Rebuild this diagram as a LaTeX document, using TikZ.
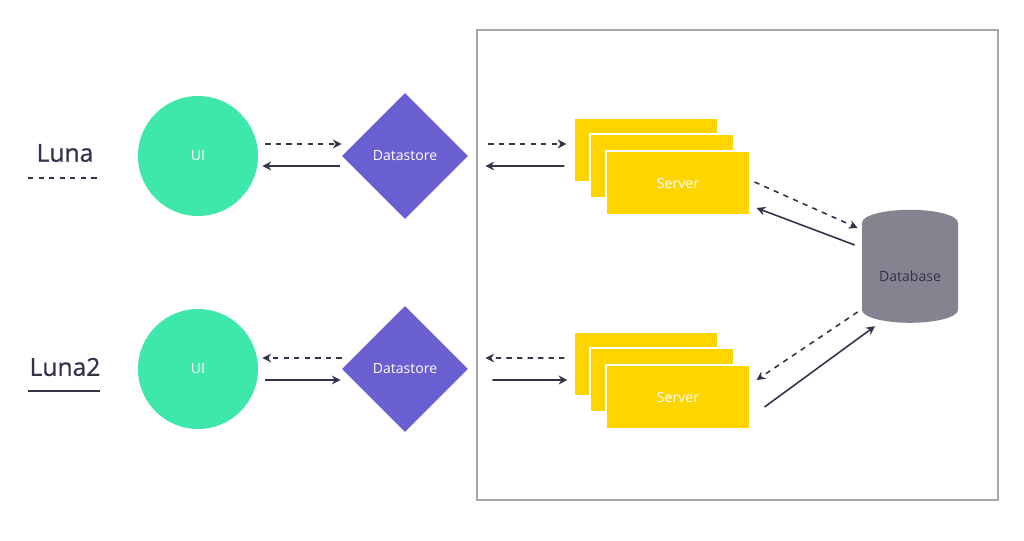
\documentclass[tikz,border=0pt]{standalone}
\usepackage{fontspec}
\setmainfont{Open Sans}
\usetikzlibrary{shapes.geometric,arrows.meta}
\definecolor{uigreen}{HTML}{3DE8AA}
\definecolor{dspurple}{HTML}{6A5FD0}
\definecolor{srvyellow}{HTML}{FFD500}
\definecolor{dbgray}{HTML}{878290}
\definecolor{ink}{HTML}{33334A}
\tikzset{
  ui/.style={circle,fill=uigreen,minimum size=2.4cm,text=white,font=\fontsize{8}{9}\selectfont},
  store/.style={diamond,aspect=1,fill=dspurple,minimum size=2.52cm,inner sep=0pt,text=white,font=\fontsize{8}{9}\selectfont},
  srv/.style={rectangle,fill=srvyellow,draw=white,line width=0.6pt,minimum width=2.88cm,minimum height=1.28cm,text=white,font=\fontsize{8}{9}\selectfont},
  db/.style={cylinder,shape border rotate=90,aspect=0.35,fill=dbgray,minimum width=1.92cm,minimum height=2.26cm,text=ink,font=\fontsize{8}{9}\selectfont},
  flow/.style={-{Stealth[length=5pt,width=5pt]},ink,line width=0.9pt},
  back/.style={flow,dashed},
  lbl/.style={text=ink,font=\fontsize{14}{16}\selectfont\addfontfeatures{FakeBold=0.8}}
}
\begin{document}
\begin{tikzpicture}
  \useasboundingbox[fill=white] (0,0) rectangle (20.48,10.82);
  \draw[gray!70,line width=1pt] (9.54,10.22) rectangle (19.96,0.82);
  % labels
  \node[lbl] (luna) at (1.3,7.76) {Luna};
  \draw[ink,dashed,line width=0.8pt] (0.56,7.26) -- (2.0,7.26);
  \node[lbl] (luna2) at (1.3,3.48) {Luna2};
  \draw[ink,line width=0.8pt] (0.56,3.0) -- (2.0,3.0);
  % nodes
  \node[ui] (ui1) at (3.96,7.70) {UI};
  \node[ui] (ui2) at (3.96,3.44) {UI};
  \node[store] (ds1) at (8.1,7.70) {Datastore};
  \node[store] (ds2) at (8.1,3.44) {Datastore};
  \node[srv] (srvA) at (12.92,7.82) {};
  \node[srv] (srvB) at (13.24,7.50) {};
  \node[srv] (srv1) at (13.56,7.16) {Server};
  \node[srv] (srvC) at (12.92,3.54) {};
  \node[srv] (srvD) at (13.24,3.22) {};
  \node[srv] (srv2) at (13.56,2.88) {Server};
  \node[db] (db) at (18.2,5.3) {Database};
  % Luna
  \draw[back] ([shift={(0.14,0.24)}]ui1.east) -- ([shift={(0,0.24)}]ds1.west);
  \draw[flow] ([shift={(-0.04,-0.2)}]ds1.west) -- ([shift={(0.08,-0.2)}]ui1.east);
  \draw[back] ([shift={(0.4,0.24)}]ds1.east) -- ([shift={(-0.14,0.12)}]srvA.west);
  \draw[flow] ([shift={(-0.18,-0.32)}]srvA.west) -- ([shift={(0.34,-0.2)}]ds1.east);
  \draw[back] ([shift={(0.08,0.02)}]srv1.east) -- ([shift={(-0.08,0.96)}]db.west);
  \draw[flow] ([shift={(-0.14,0.62)}]db.west) -- ([shift={(0.12,-0.5)}]srv1.east);
  % Luna2
  \draw[back] ([shift={(0,0.22)}]ds2.west) -- ([shift={(0.08,0.22)}]ui2.east);
  \draw[flow] ([shift={(0.14,-0.22)}]ui2.east) -- ([shift={(-0.02,-0.22)}]ds2.west);
  \draw[back] ([shift={(-0.18,0.12)}]srvC.west) -- ([shift={(0.34,0.22)}]ds2.east);
  \draw[flow] ([shift={(0.48,-0.22)}]ds2.east) -- ([shift={(-0.12,-0.32)}]srvC.west);
  \draw[back] ([shift={(-0.08,-0.72)}]db.west) -- ([shift={(0.12,0.34)}]srv2.east);
  \draw[flow] ([shift={(0.28,-0.2)}]srv2.east) -- ([shift={(-0.7,-0.06)}]db.south);
\end{tikzpicture}
\end{document}
